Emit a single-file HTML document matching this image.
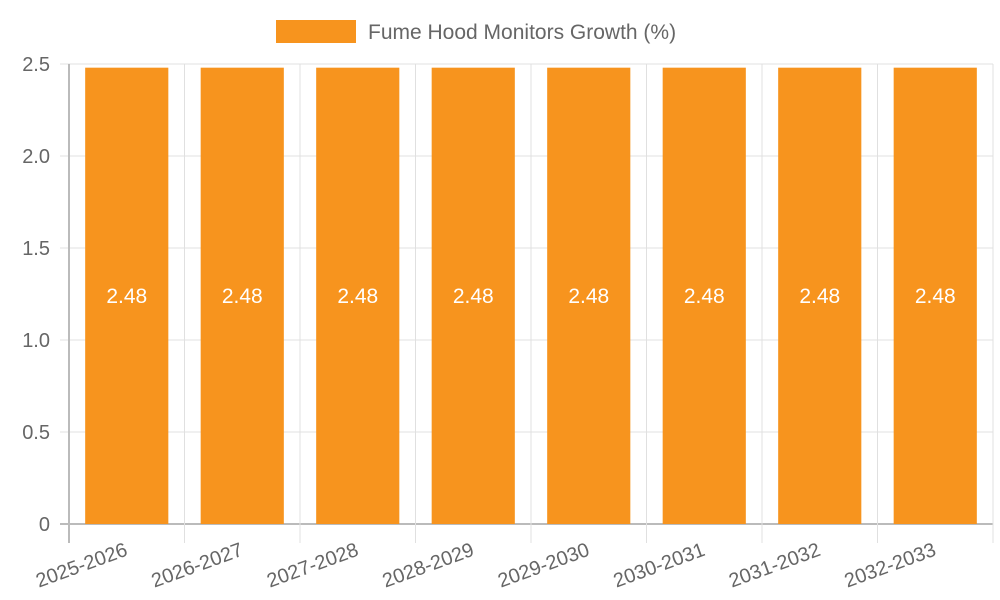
<!DOCTYPE html>
<html><head><meta charset="utf-8"><style>
html,body{margin:0;padding:0;background:#fff;}
svg{display:block;font-family:"Liberation Sans",Arial,sans-serif;}
</style></head><body>
<svg id="chart" width="1000" height="600"></svg>
<script>
const categories = ["2025-2026","2026-2027","2027-2028","2028-2029","2029-2030","2030-2031","2031-2032","2032-2033"];
const values = [2.48,2.48,2.48,2.48,2.48,2.48,2.48,2.48];
const yTicks = [0,0.5,1,1.5,2,2.5];
const yTickLabels = ["0","0.5","1.0","1.5","2.0","2.5"];
const seriesName = "Fume Hood Monitors Growth (%)";

const NS = "http://www.w3.org/2000/svg";
const svg = document.getElementById("chart");
const L = 69, R = 993, T = 64, B = 524, yMax = 2.5;
const band = (R - L) / categories.length;
const y = v => B - v / yMax * (B - T);
const xc = i => L + band * (i + 0.5);
function mk(tag, attrs, parent) {
  const e = document.createElementNS(NS, tag);
  for (const k in attrs) e.setAttribute(k, attrs[k]);
  (parent || svg).appendChild(e);
  return e;
}

// legend
const lg = mk("g", {});


const lbox = mk("rect", {x: 276, y: 20, width: 80, height: 23, fill: "#f7941e"}, lg);


const lt = mk("text", {x: 368, y: 39, "font-size": 21, fill: "#666"}, lg);
lt.textContent = seriesName;



// horizontal grid + y ticks
yTicks.forEach((t, i) => {
  const g = mk("line", {x1: 60, x2: R, y1: y(t), y2: y(t), stroke: i === 0 ? "#bbb" : "#e0e0e0", "stroke-width": i === 0 ? 2 : 1});
  
  
  const tx = mk("text", {x: 50, y: y(t) + 7, "font-size": 20, fill: "#666", "text-anchor": "end"});
  tx.textContent = yTickLabels[i];
  
  
});
// vertical grid
for (let i = 0; i <= categories.length; i++) {
  const x = L + band * i;
  const g = mk("line", {x1: x, x2: x, y1: T, y2: B + 19, stroke: i === 0 ? "#bbb" : "#e0e0e0", "stroke-width": i === 0 ? 2 : 1});
  
  
}
// bars
categories.forEach((c, i) => {
  const w = band * 0.72;
  const b = mk("rect", {x: xc(i) - w / 2, y: y(values[i]), width: w, height: B - y(values[i]), fill: "#f7941e"});
  
  
  const vt = mk("text", {x: xc(i), y: y(values[i] / 2) + 7, "font-size": 21, fill: "#fff", "text-anchor": "middle"});
  vt.textContent = values[i].toFixed(2);
  
  
  const xt = mk("text", {x: xc(i) + 2, y: 555, "font-size": 20, fill: "#666", "text-anchor": "end", transform: `rotate(-20 ${xc(i) + 2} 555)`});
  xt.textContent = c;
  
  
});
</script>
</body></html>
